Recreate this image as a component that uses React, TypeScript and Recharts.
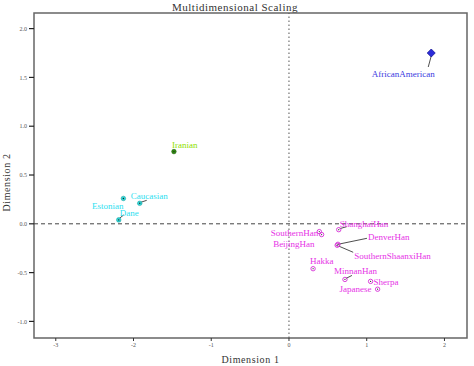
import { ScatterChart, Scatter, XAxis, YAxis, ReferenceLine, ReferenceArea } from 'recharts';

// MDS coordinates
const populations = [
  'AfricanAmerican', 'Iranian', 'Caucasian', 'Estonian', 'Dane',
  'ShanghaiHan', 'SouthernHan', 'BeijingHan', 'DenverHan', 'SouthernShaanxiHan',
  'Hakka', 'MinnanHan', 'Sherpa', 'Japanese',
];
const dim1 = [1.83, -1.48, -1.92, -2.13, -2.19, 0.64, 0.39, 0.42, 0.63, 0.62, 0.31, 0.72, 1.05, 1.14];
const dim2 = [1.75, 0.74, 0.21, 0.26, 0.04, -0.06, -0.08, -0.11, -0.21, -0.22, -0.46, -0.57, -0.59, -0.67];
const groups = ['african', 'iranian', 'european', 'european', 'european',
  'asian', 'asian', 'asian', 'asian', 'asian', 'asian', 'asian', 'asian', 'asian'];

const xTicks = [-3, -2, -1, 0, 1, 2];
const yTicks = [-1, -0.5, 0, 0.5, 1, 1.5, 2];

const GROUP_STYLE: Record<string, { fill: string; stroke: string; text: string; marker: string }> = {
  african: { fill: '#2b2bd9', stroke: '#1a1a99', text: '#3a3ae0', marker: 'diamond' },
  iranian: { fill: '#2f8a10', stroke: '#1e5a08', text: '#8fe000', marker: 'dot' },
  european: { fill: '#2ed8d8', stroke: '#1a9a9a', text: '#2ee0f0', marker: 'dot' },
  asian: { fill: 'none', stroke: '#d62ed6', text: '#e632e6', marker: 'ring' },
};

// label placement relative to the point (pixels), plus optional leader line
const LABELS: Record<string, { dx: number; dy: number; anchor: 'start' | 'middle' | 'end'; lead?: number[] }> = {
  AfricanAmerican: { dx: -28, dy: 24, anchor: 'middle', lead: [0, 3, -3, 14] },
  Iranian: { dx: -2, dy: -4, anchor: 'start' },
  Caucasian: { dx: -9, dy: -4, anchor: 'start', lead: [1, -1, 7, -3] },
  Estonian: { dx: 0, dy: 11, anchor: 'end' },
  Dane: { dx: 1, dy: -4, anchor: 'start', lead: [0, -1, 5, -5] },
  ShanghaiHan: { dx: 1, dy: -3, anchor: 'start', lead: [1, -1, 8, -3] },
  SouthernHan: { dx: -1, dy: 4, anchor: 'end' },
  BeijingHan: { dx: -7, dy: 12, anchor: 'end' },
  DenverHan: { dx: 30, dy: -4, anchor: 'start', lead: [0, 0, 29, -6] },
  SouthernShaanxiHan: { dx: 17, dy: 14, anchor: 'start', lead: [2, 1, 16, 7] },
  Hakka: { dx: -3, dy: -5, anchor: 'start' },
  MinnanHan: { dx: -11, dy: -5, anchor: 'start', lead: [1, -1, 7, -4] },
  Sherpa: { dx: 3, dy: 4, anchor: 'start' },
  Japanese: { dx: -6, dy: 3, anchor: 'end' },
};

const FONT = '"Liberation Serif", "DejaVu Serif", serif';

function makeShape(group: string) {
  const st = GROUP_STYLE[group];
  return (props: any) => {
    const { cx, cy, payload } = props;
    const lab = LABELS[payload.name];
    let marker;
    if (st.marker === 'diamond') {
      marker = (
        <polygon
          points={`${cx},${cy - 4} ${cx + 4},${cy} ${cx},${cy + 4} ${cx - 4},${cy}`}
          fill={st.fill}
          stroke={st.stroke}
          strokeWidth={0.8}
        />
      );
    } else if (st.marker === 'dot') {
      marker = (
        <g>
          <circle cx={cx} cy={cy} r={2.3} fill={st.fill} stroke={st.stroke} strokeWidth={0.5} />
          <circle cx={cx} cy={cy} r={0.7} fill="#222" />
        </g>
      );
    } else {
      marker = (
        <g>
          <circle cx={cx} cy={cy} r={2.2} fill="none" stroke={st.stroke} strokeWidth={0.9} />
          <circle cx={cx} cy={cy} r={0.6} fill="#333" />
        </g>
      );
    }
    return (
      <g>
        {lab && lab.lead && (
          <line
            x1={cx + lab.lead[0]}
            y1={cy + lab.lead[1]}
            x2={cx + lab.lead[2]}
            y2={cy + lab.lead[3]}
            stroke="#222"
            strokeWidth={0.8}
          />
        )}
        {marker}
        {lab && (
          <text
            x={cx + lab.dx}
            y={cy + lab.dy}
            textAnchor={lab.anchor}
            fill={st.text}
            fontSize={9}
            fontFamily={FONT}
          >
            {payload.name}
          </text>
        )}
      </g>
    );
  };
}

const groupOrder = ['african', 'iranian', 'european', 'asian'];
const seriesData = groupOrder.map((g) =>
  populations
    .map((name, i) => ({ name, x: dim1[i], y: dim2[i], group: groups[i] }))
    .filter((d) => d.group === g)
);

const tickStyle = { fontSize: 6, fill: '#555', fontFamily: FONT };

export default function App() {
  return (
    <div style={{ position: 'absolute', left: 0, top: 0, width: 474, height: 366, background: '#fff' }}>
      <ScatterChart width={474} height={366} margin={{ top: 13, right: 7, bottom: 0, left: 0 }}>
        <XAxis
          type="number"
          dataKey="x"
          domain={[-3.28, 2.29]}
          ticks={xTicks}
          allowDataOverflow
          axisLine={false}
          tickLine={{ stroke: '#333' }}
          tickSize={3}
          tick={tickStyle}
          tickFormatter={(v: number) => String(v)}
          height={28}
          label={{ value: 'Dimension 1', position: 'insideBottom', offset: 3, fontSize: 10, fill: '#333', fontFamily: FONT, letterSpacing: 0.6 }}
        />
        <YAxis
          type="number"
          dataKey="y"
          domain={[-1.17, 2.16]}
          ticks={yTicks}
          allowDataOverflow
          axisLine={false}
          tickLine={{ stroke: '#222', strokeWidth: 1.2 }}
          tickSize={5}
          tick={tickStyle}
          tickFormatter={(v: number) => v.toFixed(1)}
          width={34}
          label={{ value: 'Dimension 2', angle: -90, position: 'insideLeft', offset: 6, fontSize: 10, fill: '#333', fontFamily: FONT, letterSpacing: 0.6, dy: 36 }}
        />
        <ReferenceArea x1={-3.28} x2={2.29} y1={-1.17} y2={2.16} fill="none" stroke="#666" strokeWidth={1.5} fillOpacity={0} />
        <ReferenceLine y={0} stroke="#444" strokeDasharray="4 3" />
        <ReferenceLine x={0} stroke="#555" strokeDasharray="1.5 2.5" />
        {seriesData.map((d, i) => (
          <Scatter key={groupOrder[i]} data={d} shape={makeShape(groupOrder[i])} isAnimationActive={false} />
        ))}
        <text x={235} y={11} textAnchor="middle" fontSize={11} fill="#333" fontFamily={FONT} letterSpacing={0.5}>
          Multidimensional Scaling
        </text>
      </ScatterChart>
    </div>
  );
}
